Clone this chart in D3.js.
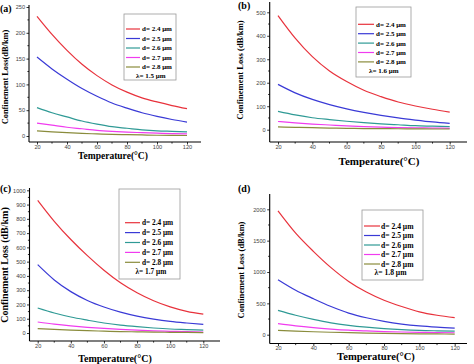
<!DOCTYPE html>
<html><head><meta charset="utf-8">
<script src="https://cdn.jsdelivr.net/npm/d3@7/dist/d3.min.js"></script>
<style>body{margin:0;background:#fff}svg{display:block}</style>
</head><body>
<svg id="c" width="474" height="364"></svg>
<script>
// ---------- data ----------
const temps = [20, 30, 40, 50, 60, 70, 80, 90, 100, 110, 120];
const seriesNames = ["d= 2.4 \u03bcm", "d= 2.5 \u03bcm", "d= 2.6 \u03bcm", "d= 2.7 \u03bcm", "d= 2.8 \u03bcm"];
const wavelengths = ["\u03bb= 1.5 \u03bcm", "\u03bb= 1.6 \u03bcm", "\u03bb= 1.7 \u03bcm", "\u03bb= 1.8 \u03bcm"];
const panelLabels = ["(a)", "(b)", "(c)", "(d)"];
const yTitles = ["Confinement Loss(dB/km)", "Confinement Loss (dB/km)", "Confinement Loss (dB/km)", "Confinement Loss (dB/km)"];
const xTitle = "Temperature(\u00b0C)";
const xTicks = [20, 40, 60, 80, 100, 120];
const yTicksA = [0, 50, 100, 150, 200, 250];
const yTicksB = [0, 100, 200, 300, 400, 500];
const yTicksC = [0, 100, 200, 300, 400, 500, 600, 700, 800, 900, 1000];
const yTicksD = [0, 500, 1000, 1500, 2000];

const lossA = [
  [232, 197, 166, 139, 117, 99, 85, 74, 66, 59, 53],
  [153, 130, 110, 92, 77, 64, 54, 45, 38, 32, 27],
  [55, 45, 37, 29, 23, 18, 15, 12, 10, 9, 8],
  [25, 21, 17, 14, 11, 9, 7.5, 6.5, 5.5, 4.5, 4],
  [10, 8, 6.5, 5, 4, 3, 2.5, 2, 1.5, 1.2, 1]
];
const lossB = [
  [486, 390, 311, 250, 205, 168, 141, 118, 101, 87, 75],
  [193, 157, 129, 107, 89, 74, 61, 50, 41, 33, 27],
  [78, 63, 51, 43, 36, 30, 25, 21, 17, 15, 13],
  [35, 29, 24, 20, 16, 13, 11, 9, 8, 7, 6],
  [12, 10, 8.5, 7, 6, 5, 4.5, 4, 3.5, 3, 3]
];
const lossC = [
  [930, 783, 655, 542, 440, 352, 282, 226, 183, 152, 132],
  [479, 372, 290, 228, 182, 146, 118, 97, 81, 70, 61],
  [175, 140, 112, 90, 70, 55, 44, 35, 28, 24, 20],
  [77, 62, 50, 40, 32, 25, 20, 15, 12, 9, 7],
  [30, 25, 20, 16, 13, 10, 8, 6, 5, 4, 3]
];
const lossD = [
  [1975, 1620, 1330, 1070, 850, 680, 550, 450, 365, 310, 272],
  [878, 710, 575, 450, 345, 270, 213, 170, 140, 120, 106],
  [388, 310, 245, 190, 150, 120, 97, 80, 68, 62, 58],
  [176, 140, 112, 90, 72, 60, 50, 43, 38, 34, 31],
  [69, 57, 47, 39, 32, 26, 21, 17, 14, 12, 10]
];

// ---------- layout / style ----------
const colors = ["#e8323c", "#3a3ad6", "#2f9a95", "#f03cef", "#8a8c3c"];
const panels = [
  {data: lossA, yTicks: yTicksA, x20: 37, x120: 187, xL: 29, xR: 201, y0: 136, yTopVal: 250, yTopPx: 7, yB: 142, yT: 5,
   lab: [0, 12], yt: [8, 77, 8.4], xt: [113, 159, 9.5], leg: [124, 14, 52, 66, 29, 9.5, 126, 140, 142, 7]},
  {data: lossB, yTicks: yTicksB, x20: 278, x120: 449.7, xL: 269.7, xR: 467, y0: 129.7, yTopVal: 500, yTopPx: 12.3, yB: 142, yT: 2,
   lab: [238, 9], yt: [243, 70, 8.6], xt: [379, 165, 11], leg: [356, 7, 55, 70, 24.3, 9.4, 358, 374, 376, 7]},
  {data: lossC, yTicks: yTicksC, x20: 37.7, x120: 203.3, xL: 29.5, xR: 220, y0: 333, yTopVal: 1000, yTopPx: 190.3, yB: 341, yT: 188,
   lab: [0, 192], yt: [8, 265, 10], xt: [115, 362, 10], leg: [119, 189, 61, 90, 222.7, 9.9, 125, 140, 142, 7.3]},
  {data: lossD, yTicks: yTicksD, x20: 278, x120: 454.7, xL: 269.7, xR: 467, y0: 334.7, yTopVal: 2000, yTopPx: 209.3, yB: 343.5, yT: 194,
   lab: [238, 192], yt: [244, 270, 8.4], xt: [376, 360, 10.6], leg: [362, 210, 61, 70, 226, 9.5, 364, 380, 381, 7.6]}
];

const svg = d3.select("#c");
const serif = "'Liberation Serif','Times New Roman',serif";
const sans = "'Liberation Sans',Arial,sans-serif";

panels.forEach((p, i) => {
  const g = svg.append("g");
  const xa = d3.scaleLinear().domain([20, 120]).range([p.x20, p.x120]);
  const x = d3.scaleLinear().domain([xa.invert(p.xL), xa.invert(p.xR)]).range([p.xL, p.xR]);
  const ya = d3.scaleLinear().domain([0, p.yTopVal]).range([p.y0, p.yTopPx]);
  const y = d3.scaleLinear().domain([ya.invert(p.yB), ya.invert(p.yT)]).range([p.yB, p.yT]);

  // x axis
  const xMinor = d3.range(30, 121, 20);
  const gx = g.append("g").attr("transform", `translate(0,${p.yB})`);
  gx.call(d3.axisBottom(x).tickValues(xTicks).tickSize(2.5).tickPadding(0.5).tickFormat(d3.format("d")));
  gx.append("g").selectAll("line").data(xMinor).join("line")
    .attr("x1", d => x(d)).attr("x2", d => x(d)).attr("y1", 0).attr("y2", 1.6).attr("stroke", "#000").attr("stroke-width", 0.8);
  // y axis
  const step = p.yTicks[1] - p.yTicks[0];
  const yMinor = p.yTicks.slice(0, -1).map(v => v + step / 2).filter(v => y(v) > p.yT);
  const gy = g.append("g").attr("transform", `translate(${p.xL},0)`);
  gy.call(d3.axisLeft(y).tickValues(p.yTicks).tickSize(2.5).tickPadding(1.5).tickFormat(d3.format("d")));
  gy.append("g").selectAll("line").data(yMinor).join("line")
    .attr("y1", d => y(d)).attr("y2", d => y(d)).attr("x1", 0).attr("x2", -1.6).attr("stroke", "#000").attr("stroke-width", 0.8);
  [gx, gy].forEach(a => {
    a.select(".domain").attr("stroke-width", 1.1);
    a.selectAll(".tick line").attr("stroke-width", 0.8);
    a.selectAll(".tick text").attr("font-family", sans).attr("font-size", 5.6).attr("fill", "#444");
  });
  gx.select(".domain").attr("d", `M${p.xL},0H${p.xR}`);
  gy.select(".domain").attr("d", `M0,${p.yB}V${p.yT}`);

  // curves
  const line = d3.line().x((d, j) => x(temps[j])).y(d => y(d)).curve(d3.curveMonotoneX);
  p.data.forEach((s, k) => {
    g.append("path").datum(s).attr("d", line).attr("fill", "none")
      .attr("stroke", colors[k]).attr("stroke-width", 1.2);
  });

  // labels
  g.append("text").attr("x", p.lab[0]).attr("y", p.lab[1]).text(panelLabels[i])
    .attr("font-family", serif).attr("font-weight", "bold").attr("font-size", 10);
  g.append("text").attr("transform", `translate(${p.yt[0]},${p.yt[1]}) rotate(-90)`)
    .attr("text-anchor", "middle").attr("font-family", serif).attr("font-weight", "bold")
    .attr("font-size", p.yt[2]).text(yTitles[i]);
  g.append("text").attr("x", p.xt[0]).attr("y", p.xt[1]).attr("text-anchor", "middle")
    .attr("font-family", serif).attr("font-weight", "bold").attr("font-size", p.xt[2]).text(xTitle);

  // legend
  const [lx, ly, lw, lh, r0, dr, sx1, sx2, tx, fs] = p.leg;
  g.append("rect").attr("x", lx).attr("y", ly).attr("width", lw).attr("height", lh)
    .attr("fill", "#fff").attr("stroke", "#9a9a9a").attr("stroke-width", 0.8);
  seriesNames.forEach((n, k) => {
    const yy = r0 + k * dr;
    g.append("line").attr("x1", sx1).attr("x2", sx2).attr("y1", yy).attr("y2", yy)
      .attr("stroke", colors[k]).attr("stroke-width", 1.2);
    g.append("text").attr("x", tx).attr("y", yy).attr("dy", "0.35em").text(n)
      .attr("font-family", serif).attr("font-weight", "bold").attr("font-size", fs);
  });
  g.append("text").attr("x", (sx1 + tx) / 2 + 2).attr("y", r0 + 5 * dr - 1).attr("dy", "0.35em").text(wavelengths[i])
    .attr("font-family", serif).attr("font-weight", "bold").attr("font-size", fs);
});
</script>
</body></html>
